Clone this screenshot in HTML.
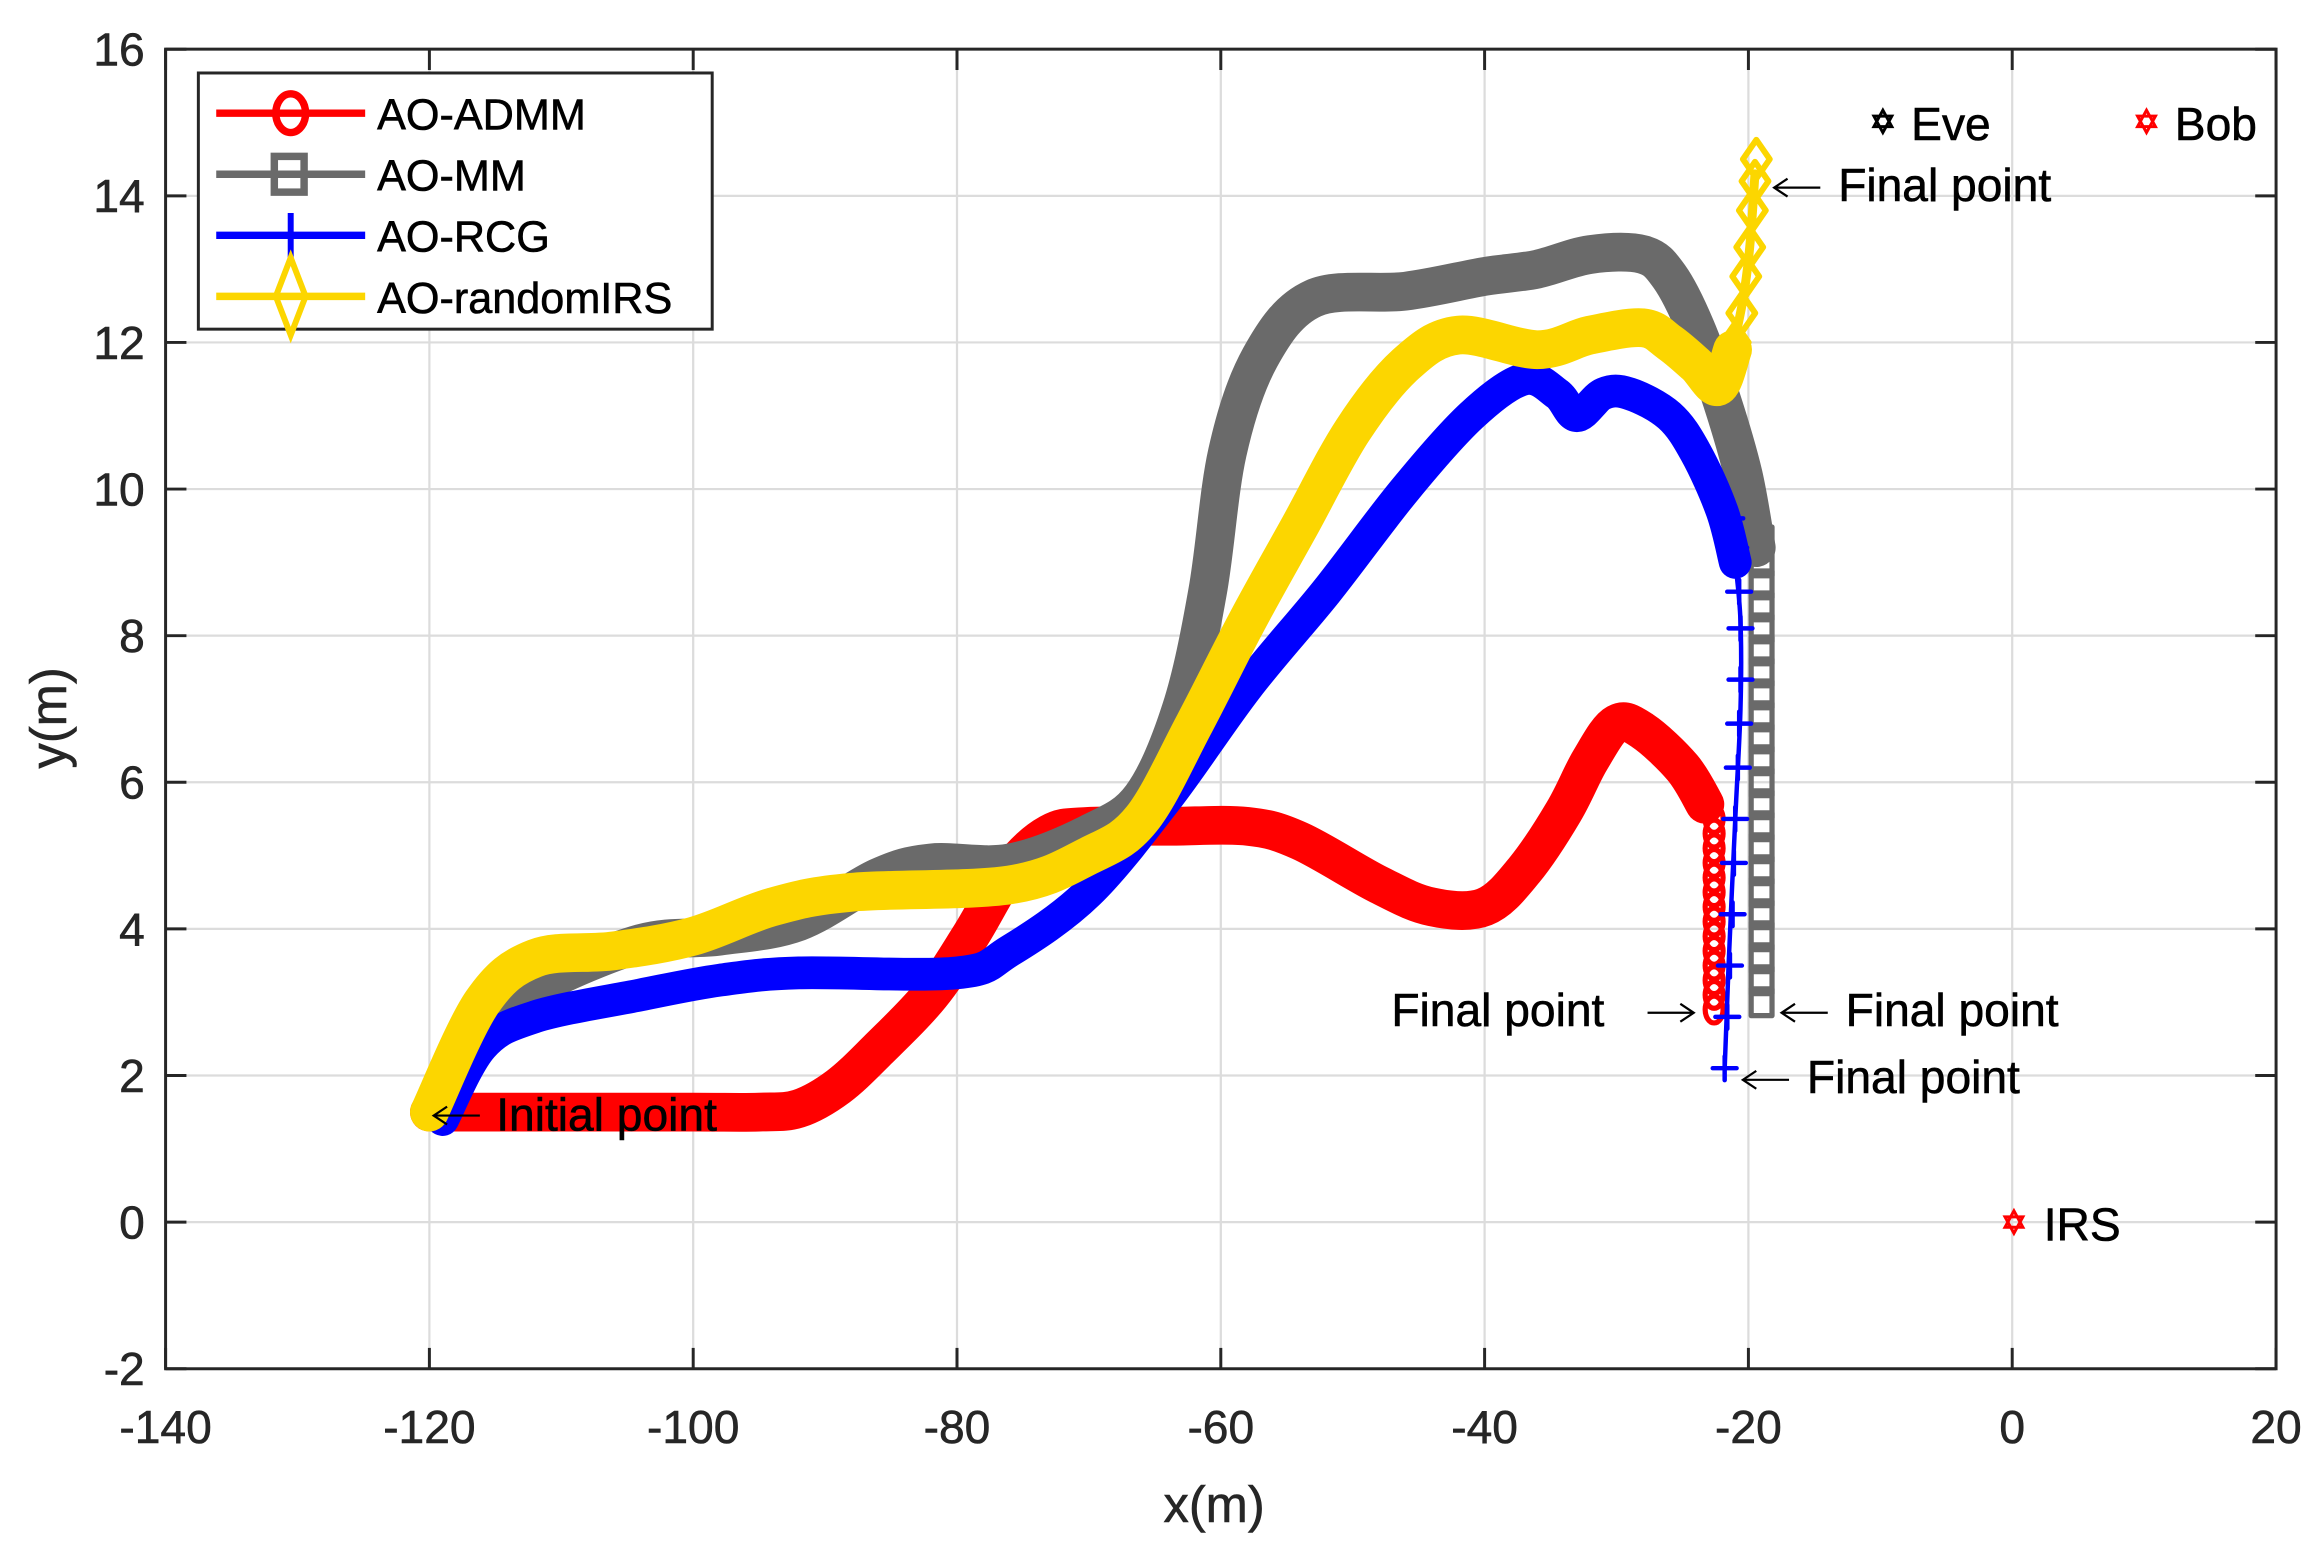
<!DOCTYPE html>
<html><head><meta charset="utf-8"><style>
html,body{margin:0;padding:0;background:#fff}
svg{display:block}
text{font-family:"Liberation Sans",Arial,sans-serif}
</style></head><body>
<svg width="2324" height="1546" viewBox="0 0 1560 1038" xmlns="http://www.w3.org/2000/svg">
<rect width="1560" height="1038" fill="#fff"/>
<g id="grid" stroke="#dcdcdc" stroke-width="1.5"></g>
<g id="series" fill="none" stroke-linejoin="round" stroke-linecap="round"></g>
<rect x="111" y="33" width="1417" height="886" fill="none" stroke="#262626" stroke-width="2"/>
<g id="ticks" stroke="#262626" stroke-width="2"></g>
<g id="labels" font-size="31" fill="#262626" stroke="#262626" stroke-width="0.4"></g>
<text x="815" y="1022" font-size="34" fill="#262626" stroke="#262626" stroke-width="0.4" text-anchor="middle">x(m)</text>
<text transform="translate(44,482) rotate(-90)" font-size="34" fill="#262626" stroke="#262626" stroke-width="0.4" text-anchor="middle">y(m)</text>
<g font-size="31" fill="#000" stroke="#000" stroke-width="0.4">
<text x="333" y="759">Initial point</text>
<text x="1234" y="135">Final point</text>
<text x="934" y="689">Final point</text>
<text x="1239" y="689">Final point</text>
<text x="1213" y="734">Final point</text>
<text x="1283" y="94">Eve</text>
<text x="1460" y="94">Bob</text>
<text x="1372" y="833">IRS</text>
</g>
<g stroke="#000" stroke-width="1.5" fill="none">
<line x1="322" y1="749" x2="292" y2="749"/><path d="M300 743 L291 749 L300 755"/>
<line x1="1222" y1="126" x2="1192" y2="126"/><path d="M1200 120 L1191 126 L1200 132"/>
<line x1="1106" y1="680" x2="1136" y2="680"/><path d="M1128 674 L1137 680 L1128 686"/>
<line x1="1227" y1="680" x2="1197" y2="680"/><path d="M1205 674 L1196 680 L1205 686"/>
<line x1="1201" y1="725" x2="1171" y2="725"/><path d="M1179 719 L1170 725 L1179 731"/>
</g>
<g fill="none" stroke-width="2">
<path d="M1264 74 L1270 85 L1258 85 Z M1264 89 L1258 78 L1270 78 Z" stroke="#000"/>
<path d="M1441 74 L1447 85 L1435 85 Z M1441 89 L1435 78 L1447 78 Z" stroke="#f00"/>
<path d="M1352 813 L1358 824 L1346 824 Z M1352 828 L1346 817 L1358 817 Z" stroke="#f00"/>
</g>
<g>
<rect x="133" y="49" width="345" height="172" fill="#fff" stroke="#262626" stroke-width="2"/>
<line x1="145" y1="76" x2="245" y2="76" stroke="#f00" stroke-width="5"/>
<ellipse cx="195" cy="76" rx="10" ry="13" fill="none" stroke="#f00" stroke-width="5"/>
<line x1="145" y1="117" x2="245" y2="117" stroke="#6a6a6a" stroke-width="5"/>
<rect x="184" y="105" width="20" height="24" fill="none" stroke="#6a6a6a" stroke-width="5"/>
<line x1="145" y1="158" x2="245" y2="158" stroke="#00f" stroke-width="5"/>
<line x1="195" y1="143" x2="195" y2="173" stroke="#00f" stroke-width="4"/>
<line x1="145" y1="199" x2="245" y2="199" stroke="#fcd600" stroke-width="5"/>
<path d="M195 173 L205 199 L195 225 L185 199 Z" fill="none" stroke="#fcd600" stroke-width="4"/>
<g font-size="29" fill="#000" stroke="#000" stroke-width="0.4">
<text x="253" y="87">AO-ADMM</text>
<text x="253" y="128">AO-MM</text>
<text x="253" y="169">AO-RCG</text>
<text x="253" y="210">AO-randomIRS</text>
</g>
</g>
</svg>
<script>
var NS="http://www.w3.org/2000/svg";
function X(x){return 111+(x+140)*8.856;}
function Y(y){return 919-(y+2)*49.22;}
function el(p,t,a){var e=document.createElementNS(NS,t);for(var k in a)e.setAttribute(k,a[k]);p.appendChild(e);return e;}
var g=document.getElementById('grid'),tk=document.getElementById('ticks'),lb=document.getElementById('labels');
for(var x=-140;x<=20;x+=20){var px=X(x);
 if(x>-140&&x<20)el(g,'line',{x1:px,y1:33,x2:px,y2:919});
 el(tk,'line',{x1:px,y1:919,x2:px,y2:905});el(tk,'line',{x1:px,y1:33,x2:px,y2:47});
 var t=el(lb,'text',{x:px,y:969,'text-anchor':'middle'});t.textContent=x;}
for(var y=-2;y<=16;y+=2){var py=Y(y);
 if(y>-2&&y<16)el(g,'line',{x1:111,y1:py,x2:1528,y2:py});
 el(tk,'line',{x1:111,y1:py,x2:125,y2:py});el(tk,'line',{x1:1528,y1:py,x2:1514,y2:py});
 var t=el(lb,'text',{x:97,y:py+11,'text-anchor':'end'});t.textContent=y;}
var S=document.getElementById('series');
function spline(a){var P=a.map(function(p){return [X(p[0]),Y(p[1])];});
 var d='M'+P[0][0].toFixed(1)+' '+P[0][1].toFixed(1);
 for(var i=0;i<P.length-1;i++){var p0=P[Math.max(0,i-1)],p1=P[i],p2=P[i+1],p3=P[Math.min(P.length-1,i+2)];
  var c1=[p1[0]+(p2[0]-p0[0])/6,p1[1]+(p2[1]-p0[1])/6],c2=[p2[0]-(p3[0]-p1[0])/6,p2[1]-(p3[1]-p1[1])/6];
  d+=' C'+c1[0].toFixed(1)+' '+c1[1].toFixed(1)+' '+c2[0].toFixed(1)+' '+c2[1].toFixed(1)+' '+p2[0].toFixed(1)+' '+p2[1].toFixed(1);}
 return d;}
function line(a,c,w){el(S,'path',{d:spline(a),stroke:c,'stroke-width':w});}
var red=[[-120,1.5],[-110,1.5],[-100,1.5],[-95,1.5],[-92,1.55],[-89,1.85],[-86,2.35],[-82,3.1],[-79,3.9],[-76,4.8],[-73,5.3],[-70,5.4],[-64,5.4],[-58,5.4],[-54,5.2],[-48,4.6],[-44,4.3],[-40,4.3],[-37,4.8],[-34,5.6],[-32,6.3],[-30,6.8],[-28,6.7],[-25,6.2],[-23.3,5.7]];
var gray=[[-119,1.5],[-116,2.6],[-112,3.2],[-104,3.8],[-98,3.9],[-92,4.1],[-86,4.7],[-82,4.9],[-76,4.9],[-70,5.3],[-66,5.8],[-63,7],[-61,8.6],[-59.5,10.5],[-57,11.8],[-53,12.6],[-46,12.7],[-40,12.9],[-36,13],[-32,13.2],[-28,13.2],[-26,12.9],[-24,12.2],[-22,11.2],[-20.4,10.2],[-19.4,9.2]];
var blue=[[-119,1.4],[-116,2.4],[-112,2.8],[-104,3.1],[-98,3.3],[-92,3.4],[-80,3.4],[-76,3.7],[-70,4.5],[-64,5.8],[-58,7.3],[-52,8.6],[-46,10],[-41,11],[-37,11.5],[-34.5,11.3],[-33,11.0],[-31,11.3],[-29,11.3],[-26,11],[-24,10.5],[-22,9.7],[-21,9]];
var blueT=[[-21,9],[-20.6,8.2],[-20.6,7],[-21,5.5],[-21.5,3.5],[-21.8,2.1]];
var yel=[[-120,1.5],[-116,3],[-112,3.6],[-106,3.7],[-100,3.9],[-94,4.3],[-88,4.5],[-76,4.6],[-70,5],[-66,5.5],[-62,6.8],[-58,8.2],[-54,9.5],[-50,10.8],[-46,11.7],[-42,12.1],[-36,11.9],[-32,12.1],[-28,12.2],[-26,12],[-24,11.7],[-22.3,11.4],[-21.2,11.9]];
line(red,'#f00',26);
for(var v=2.9;v<=5.6;v+=0.2)el(S,'ellipse',{cx:X(-22.6),cy:Y(v),rx:6,ry:9,stroke:'#f00','stroke-width':3.5});
line(gray,'#6a6a6a',26);
for(var v=3;v<=9.6;v+=0.3)el(S,'rect',{x:X(-19)-7,y:Y(v)-9,width:14,height:18,stroke:'#6a6a6a','stroke-width':3.5,fill:'none'});
line(blue,'#00f',22);
line(blueT,'#00f',3);
[[-21.8,2.1],[-21.6,2.8],[-21.4,3.5],[-21.2,4.2],[-21.1,4.9],[-21,5.5],[-20.8,6.2],[-20.7,6.8],[-20.6,7.4],[-20.6,8.1],[-20.7,8.6],[-21,9.2],[-21.3,9.6]].forEach(function(p){
 el(S,'line',{x1:X(p[0])-8,y1:Y(p[1]),x2:X(p[0])+8,y2:Y(p[1]),stroke:'#00f','stroke-width':3});
 el(S,'line',{x1:X(p[0]),y1:Y(p[1])-8,x2:X(p[0]),y2:Y(p[1])+8,stroke:'#00f','stroke-width':3});});
line(yel,'#fcd600',26);
el(S,'path',{d:spline([[-21.2,11.9],[-20.4,12.6],[-19.9,13.3],[-19.5,14.3]]),stroke:'#fcd600','stroke-width':6});
[[-21,12],[-20.5,12.4],[-20.2,12.9],[-19.9,13.3],[-19.7,13.8],[-19.5,14.2],[-19.4,14.5]].forEach(function(p){
 var cx=X(p[0]),cy=Y(p[1]);el(S,'path',{d:'M'+cx+' '+(cy-13)+' L'+(cx+9)+' '+cy+' L'+cx+' '+(cy+13)+' L'+(cx-9)+' '+cy+' Z',stroke:'#fcd600','stroke-width':4,fill:'none'});});
</script>
</body></html>
